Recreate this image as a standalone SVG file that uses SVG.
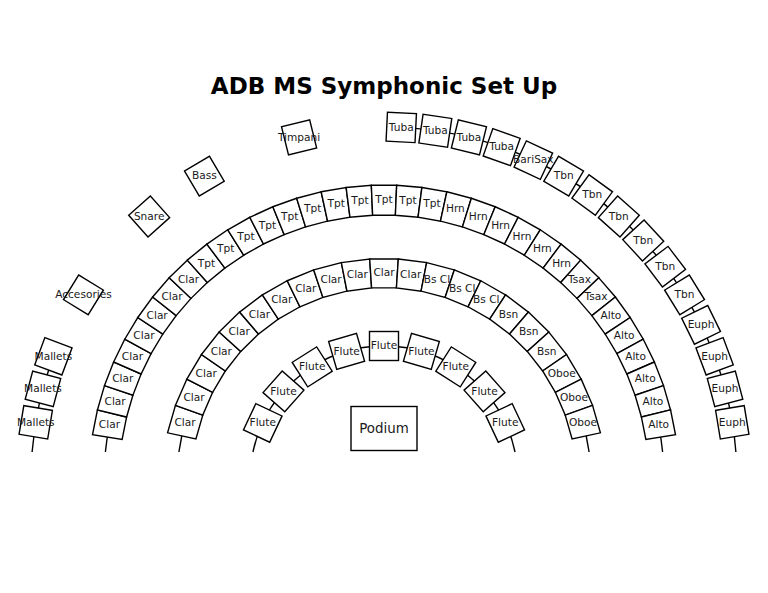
<svg xmlns="http://www.w3.org/2000/svg" xmlns:xlink="http://www.w3.org/1999/xlink" width="768" height="593" viewBox="0 0 768 593">
<style>
.b{fill:#fff;stroke:#000;stroke-width:1.4}
.c{fill:none;stroke:#000;stroke-width:1.4}
.t{font-family:"DejaVu Sans",sans-serif;font-size:10.6px;text-anchor:middle;fill:#1a1a1a}
.ttl{font-family:"DejaVu Sans",sans-serif;font-size:23px;font-weight:bold;text-anchor:middle;fill:#000}
</style>
<defs>
<polygon id="pm" points="-14.29,-14.04 14.29,-14.04 12.42,14.9 -12.42,14.9"/>
<polygon id="po" points="-12.66,-14.73 12.66,-14.73 11.37,15.24 -11.37,15.24"/>
<rect id="sq" x="-14.5" y="-14.5" width="29" height="29"/>
</defs>
<rect width="768" height="593" fill="#fff"/>
<text class="ttl" x="384" y="94">ADB MS Symphonic Set Up</text>

<g id="connectors">
<path class="c" d="M 252.96 452 A 134 134 0 0 1 515.04 452"/>
<path class="c" d="M 178.9 452 A 207 207 0 0 1 589.1 452"/>
<path class="c" d="M 105.4 452 A 280 280 0 0 1 662.6 452"/>
<path class="c" d="M 735.89 452 A 353 353 0 0 0 401.2 127.42"/>
<path class="c" d="M 32.11 452 A 353 353 0 0 1 53.37 356.32"/>
</g>

<g id="podium"><rect class="b" x="351" y="406.5" width="66" height="44"/><text class="t" style="font-size:13.4px" x="384" y="428.5" dy="0.3em">Podium</text></g>

<!-- Flutes -->
<g id="flute-1" transform="translate(384 480) rotate(-64.8) translate(0 -134)"><use href="#sq" class="b"/><text class="t" transform="rotate(64.8)" dy="0.3em">Flute</text></g>
<g id="flute-2" transform="translate(384 480) rotate(-48.6) translate(0 -134)"><use href="#sq" class="b"/><text class="t" transform="rotate(48.6)" dy="0.3em">Flute</text></g>
<g id="flute-3" transform="translate(384 480) rotate(-32.4) translate(0 -134)"><use href="#sq" class="b"/><text class="t" transform="rotate(32.4)" dy="0.3em">Flute</text></g>
<g id="flute-4" transform="translate(384 480) rotate(-16.2) translate(0 -134)"><use href="#sq" class="b"/><text class="t" transform="rotate(16.2)" dy="0.3em">Flute</text></g>
<g id="flute-5" transform="translate(384 480) rotate(0) translate(0 -134)"><use href="#sq" class="b"/><text class="t" dy="0.3em">Flute</text></g>
<g id="flute-6" transform="translate(384 480) rotate(16.2) translate(0 -134)"><use href="#sq" class="b"/><text class="t" transform="rotate(-16.2)" dy="0.3em">Flute</text></g>
<g id="flute-7" transform="translate(384 480) rotate(32.4) translate(0 -134)"><use href="#sq" class="b"/><text class="t" transform="rotate(-32.4)" dy="0.3em">Flute</text></g>
<g id="flute-8" transform="translate(384 480) rotate(48.6) translate(0 -134)"><use href="#sq" class="b"/><text class="t" transform="rotate(-48.6)" dy="0.3em">Flute</text></g>
<g id="flute-9" transform="translate(384 480) rotate(64.8) translate(0 -134)"><use href="#sq" class="b"/><text class="t" transform="rotate(-64.8)" dy="0.3em">Flute</text></g>

<!-- Middle row -->
<g id="mid-1" transform="translate(384 480) rotate(-74) translate(0 -207)"><use href="#pm" class="b"/><text class="t" transform="rotate(74)" dy="0.3em">Clar</text></g>
<g id="mid-2" transform="translate(384 480) rotate(-66.6) translate(0 -207)"><use href="#pm" class="b"/><text class="t" transform="rotate(66.6)" dy="0.3em">Clar</text></g>
<g id="mid-3" transform="translate(384 480) rotate(-59.2) translate(0 -207)"><use href="#pm" class="b"/><text class="t" transform="rotate(59.2)" dy="0.3em">Clar</text></g>
<g id="mid-4" transform="translate(384 480) rotate(-51.8) translate(0 -207)"><use href="#pm" class="b"/><text class="t" transform="rotate(51.8)" dy="0.3em">Clar</text></g>
<g id="mid-5" transform="translate(384 480) rotate(-44.4) translate(0 -207)"><use href="#pm" class="b"/><text class="t" transform="rotate(44.4)" dy="0.3em">Clar</text></g>
<g id="mid-6" transform="translate(384 480) rotate(-37) translate(0 -207)"><use href="#pm" class="b"/><text class="t" transform="rotate(37)" dy="0.3em">Clar</text></g>
<g id="mid-7" transform="translate(384 480) rotate(-29.6) translate(0 -207)"><use href="#pm" class="b"/><text class="t" transform="rotate(29.6)" dy="0.3em">Clar</text></g>
<g id="mid-8" transform="translate(384 480) rotate(-22.2) translate(0 -207)"><use href="#pm" class="b"/><text class="t" transform="rotate(22.2)" dy="0.3em">Clar</text></g>
<g id="mid-9" transform="translate(384 480) rotate(-14.8) translate(0 -207)"><use href="#pm" class="b"/><text class="t" transform="rotate(14.8)" dy="0.3em">Clar</text></g>
<g id="mid-10" transform="translate(384 480) rotate(-7.4) translate(0 -207)"><use href="#pm" class="b"/><text class="t" transform="rotate(7.4)" dy="0.3em">Clar</text></g>
<g id="mid-11" transform="translate(384 480) rotate(0) translate(0 -207)"><use href="#pm" class="b"/><text class="t" dy="0.3em">Clar</text></g>
<g id="mid-12" transform="translate(384 480) rotate(7.4) translate(0 -207)"><use href="#pm" class="b"/><text class="t" transform="rotate(-7.4)" dy="0.3em">Clar</text></g>
<g id="mid-13" transform="translate(384 480) rotate(14.8) translate(0 -207)"><use href="#pm" class="b"/><text class="t" transform="rotate(-14.8)" dy="0.3em">Bs Cl</text></g>
<g id="mid-14" transform="translate(384 480) rotate(22.2) translate(0 -207)"><use href="#pm" class="b"/><text class="t" transform="rotate(-22.2)" dy="0.3em">Bs Cl</text></g>
<g id="mid-15" transform="translate(384 480) rotate(29.6) translate(0 -207)"><use href="#pm" class="b"/><text class="t" transform="rotate(-29.6)" dy="0.3em">Bs Cl</text></g>
<g id="mid-16" transform="translate(384 480) rotate(37) translate(0 -207)"><use href="#pm" class="b"/><text class="t" transform="rotate(-37)" dy="0.3em">Bsn</text></g>
<g id="mid-17" transform="translate(384 480) rotate(44.4) translate(0 -207)"><use href="#pm" class="b"/><text class="t" transform="rotate(-44.4)" dy="0.3em">Bsn</text></g>
<g id="mid-18" transform="translate(384 480) rotate(51.8) translate(0 -207)"><use href="#pm" class="b"/><text class="t" transform="rotate(-51.8)" dy="0.3em">Bsn</text></g>
<g id="mid-19" transform="translate(384 480) rotate(59.2) translate(0 -207)"><use href="#pm" class="b"/><text class="t" transform="rotate(-59.2)" dy="0.3em">Oboe</text></g>
<g id="mid-20" transform="translate(384 480) rotate(66.6) translate(0 -207)"><use href="#pm" class="b"/><text class="t" transform="rotate(-66.6)" dy="0.3em">Oboe</text></g>
<g id="mid-21" transform="translate(384 480) rotate(74) translate(0 -207)"><use href="#pm" class="b"/><text class="t" transform="rotate(-74)" dy="0.3em">Oboe</text></g>

<!-- Outer row -->
<g id="out-1" transform="translate(384 480) rotate(-78.72) translate(0 -280)"><use href="#po" class="b"/><text class="t" transform="rotate(78.72)" dy="0.3em">Clar</text></g>
<g id="out-2" transform="translate(384 480) rotate(-73.8) translate(0 -280)"><use href="#po" class="b"/><text class="t" transform="rotate(73.8)" dy="0.3em">Clar</text></g>
<g id="out-3" transform="translate(384 480) rotate(-68.88) translate(0 -280)"><use href="#po" class="b"/><text class="t" transform="rotate(68.88)" dy="0.3em">Clar</text></g>
<g id="out-4" transform="translate(384 480) rotate(-63.96) translate(0 -280)"><use href="#po" class="b"/><text class="t" transform="rotate(63.96)" dy="0.3em">Clar</text></g>
<g id="out-5" transform="translate(384 480) rotate(-59.04) translate(0 -280)"><use href="#po" class="b"/><text class="t" transform="rotate(59.04)" dy="0.3em">Clar</text></g>
<g id="out-6" transform="translate(384 480) rotate(-54.12) translate(0 -280)"><use href="#po" class="b"/><text class="t" transform="rotate(54.12)" dy="0.3em">Clar</text></g>
<g id="out-7" transform="translate(384 480) rotate(-49.2) translate(0 -280)"><use href="#po" class="b"/><text class="t" transform="rotate(49.2)" dy="0.3em">Clar</text></g>
<g id="out-8" transform="translate(384 480) rotate(-44.28) translate(0 -280)"><use href="#po" class="b"/><text class="t" transform="rotate(44.28)" dy="0.3em">Clar</text></g>
<g id="out-9" transform="translate(384 480) rotate(-39.36) translate(0 -280)"><use href="#po" class="b"/><text class="t" transform="rotate(39.36)" dy="0.3em">Tpt</text></g>
<g id="out-10" transform="translate(384 480) rotate(-34.44) translate(0 -280)"><use href="#po" class="b"/><text class="t" transform="rotate(34.44)" dy="0.3em">Tpt</text></g>
<g id="out-11" transform="translate(384 480) rotate(-29.52) translate(0 -280)"><use href="#po" class="b"/><text class="t" transform="rotate(29.52)" dy="0.3em">Tpt</text></g>
<g id="out-12" transform="translate(384 480) rotate(-24.6) translate(0 -280)"><use href="#po" class="b"/><text class="t" transform="rotate(24.6)" dy="0.3em">Tpt</text></g>
<g id="out-13" transform="translate(384 480) rotate(-19.68) translate(0 -280)"><use href="#po" class="b"/><text class="t" transform="rotate(19.68)" dy="0.3em">Tpt</text></g>
<g id="out-14" transform="translate(384 480) rotate(-14.76) translate(0 -280)"><use href="#po" class="b"/><text class="t" transform="rotate(14.76)" dy="0.3em">Tpt</text></g>
<g id="out-15" transform="translate(384 480) rotate(-9.84) translate(0 -280)"><use href="#po" class="b"/><text class="t" transform="rotate(9.84)" dy="0.3em">Tpt</text></g>
<g id="out-16" transform="translate(384 480) rotate(-4.92) translate(0 -280)"><use href="#po" class="b"/><text class="t" transform="rotate(4.92)" dy="0.3em">Tpt</text></g>
<g id="out-17" transform="translate(384 480) rotate(0) translate(0 -280)"><use href="#po" class="b"/><text class="t" dy="0.3em">Tpt</text></g>
<g id="out-18" transform="translate(384 480) rotate(4.92) translate(0 -280)"><use href="#po" class="b"/><text class="t" transform="rotate(-4.92)" dy="0.3em">Tpt</text></g>
<g id="out-19" transform="translate(384 480) rotate(9.84) translate(0 -280)"><use href="#po" class="b"/><text class="t" transform="rotate(-9.84)" dy="0.3em">Tpt</text></g>
<g id="out-20" transform="translate(384 480) rotate(14.76) translate(0 -280)"><use href="#po" class="b"/><text class="t" transform="rotate(-14.76)" dy="0.3em">Hrn</text></g>
<g id="out-21" transform="translate(384 480) rotate(19.68) translate(0 -280)"><use href="#po" class="b"/><text class="t" transform="rotate(-19.68)" dy="0.3em">Hrn</text></g>
<g id="out-22" transform="translate(384 480) rotate(24.6) translate(0 -280)"><use href="#po" class="b"/><text class="t" transform="rotate(-24.6)" dy="0.3em">Hrn</text></g>
<g id="out-23" transform="translate(384 480) rotate(29.52) translate(0 -280)"><use href="#po" class="b"/><text class="t" transform="rotate(-29.52)" dy="0.3em">Hrn</text></g>
<g id="out-24" transform="translate(384 480) rotate(34.44) translate(0 -280)"><use href="#po" class="b"/><text class="t" transform="rotate(-34.44)" dy="0.3em">Hrn</text></g>
<g id="out-25" transform="translate(384 480) rotate(39.36) translate(0 -280)"><use href="#po" class="b"/><text class="t" transform="rotate(-39.36)" dy="0.3em">Hrn</text></g>
<g id="out-26" transform="translate(384 480) rotate(44.28) translate(0 -280)"><use href="#po" class="b"/><text class="t" transform="rotate(-44.28)" dy="0.3em">Tsax</text></g>
<g id="out-27" transform="translate(384 480) rotate(49.2) translate(0 -280)"><use href="#po" class="b"/><text class="t" transform="rotate(-49.2)" dy="0.3em">Tsax</text></g>
<g id="out-28" transform="translate(384 480) rotate(54.12) translate(0 -280)"><use href="#po" class="b"/><text class="t" transform="rotate(-54.12)" dy="0.3em">Alto</text></g>
<g id="out-29" transform="translate(384 480) rotate(59.04) translate(0 -280)"><use href="#po" class="b"/><text class="t" transform="rotate(-59.04)" dy="0.3em">Alto</text></g>
<g id="out-30" transform="translate(384 480) rotate(63.96) translate(0 -280)"><use href="#po" class="b"/><text class="t" transform="rotate(-63.96)" dy="0.3em">Alto</text></g>
<g id="out-31" transform="translate(384 480) rotate(68.88) translate(0 -280)"><use href="#po" class="b"/><text class="t" transform="rotate(-68.88)" dy="0.3em">Alto</text></g>
<g id="out-32" transform="translate(384 480) rotate(73.8) translate(0 -280)"><use href="#po" class="b"/><text class="t" transform="rotate(-73.8)" dy="0.3em">Alto</text></g>
<g id="out-33" transform="translate(384 480) rotate(78.72) translate(0 -280)"><use href="#po" class="b"/><text class="t" transform="rotate(-78.72)" dy="0.3em">Alto</text></g>

<!-- Outermost ring, left -->
<g id="mallets-1" transform="translate(384 480) rotate(-80.6) translate(0 -353)"><use href="#sq" class="b"/><text class="t" transform="rotate(80.6)" dy="0.3em">Mallets</text></g>
<g id="mallets-2" transform="translate(384 480) rotate(-75.04) translate(0 -353)"><use href="#sq" class="b"/><text class="t" transform="rotate(75.04)" dy="0.3em">Mallets</text></g>
<g id="mallets-3" transform="translate(384 480) rotate(-69.49) translate(0 -353)"><use href="#sq" class="b"/><text class="t" transform="rotate(69.49)" dy="0.3em">Mallets</text></g>
<g id="accesories" transform="translate(384 480) rotate(-58.37) translate(0 -353)"><use href="#sq" class="b"/><text class="t" transform="rotate(58.37)" dy="0.3em">Accesories</text></g>
<g id="snare" transform="translate(384 480) rotate(-41.7) translate(0 -353)"><use href="#sq" class="b"/><text class="t" transform="rotate(41.7)" dy="0.3em">Snare</text></g>
<g id="bass" transform="translate(384 480) rotate(-30.59) translate(0 -353)"><use href="#sq" class="b"/><text class="t" transform="rotate(30.59)" dy="0.3em">Bass</text></g>
<g id="timpani" transform="translate(384 480) rotate(-13.92) translate(0 -353)"><use href="#sq" class="b"/><text class="t" transform="rotate(13.92)" dy="0.3em">Timpani</text></g>

<!-- Outermost ring, right -->
<g id="tuba-1" transform="translate(384 480) rotate(2.8) translate(0 -353)"><use href="#sq" class="b"/><text class="t" transform="rotate(-2.8)" dy="0.3em">Tuba</text></g>
<g id="tuba-2" transform="translate(384 480) rotate(8.36) translate(0 -353)"><use href="#sq" class="b"/><text class="t" transform="rotate(-8.36)" dy="0.3em">Tuba</text></g>
<g id="tuba-3" transform="translate(384 480) rotate(13.92) translate(0 -353)"><use href="#sq" class="b"/><text class="t" transform="rotate(-13.92)" dy="0.3em">Tuba</text></g>
<g id="tuba-4" transform="translate(384 480) rotate(19.47) translate(0 -353)"><use href="#sq" class="b"/><text class="t" transform="rotate(-19.47)" dy="0.3em">Tuba</text></g>
<g id="barisax" transform="translate(384 480) rotate(25.03) translate(0 -353)"><use href="#sq" class="b"/><text class="t" transform="rotate(-25.03)" dy="0.3em">BariSax</text></g>
<g id="tbn-1" transform="translate(384 480) rotate(30.59) translate(0 -353)"><use href="#sq" class="b"/><text class="t" transform="rotate(-30.59)" dy="0.3em">Tbn</text></g>
<g id="tbn-2" transform="translate(384 480) rotate(36.14) translate(0 -353)"><use href="#sq" class="b"/><text class="t" transform="rotate(-36.14)" dy="0.3em">Tbn</text></g>
<g id="tbn-3" transform="translate(384 480) rotate(41.7) translate(0 -353)"><use href="#sq" class="b"/><text class="t" transform="rotate(-41.7)" dy="0.3em">Tbn</text></g>
<g id="tbn-4" transform="translate(384 480) rotate(47.26) translate(0 -353)"><use href="#sq" class="b"/><text class="t" transform="rotate(-47.26)" dy="0.3em">Tbn</text></g>
<g id="tbn-5" transform="translate(384 480) rotate(52.82) translate(0 -353)"><use href="#sq" class="b"/><text class="t" transform="rotate(-52.82)" dy="0.3em">Tbn</text></g>
<g id="tbn-6" transform="translate(384 480) rotate(58.37) translate(0 -353)"><use href="#sq" class="b"/><text class="t" transform="rotate(-58.37)" dy="0.3em">Tbn</text></g>
<g id="euph-1" transform="translate(384 480) rotate(63.93) translate(0 -353)"><use href="#sq" class="b"/><text class="t" transform="rotate(-63.93)" dy="0.3em">Euph</text></g>
<g id="euph-2" transform="translate(384 480) rotate(69.49) translate(0 -353)"><use href="#sq" class="b"/><text class="t" transform="rotate(-69.49)" dy="0.3em">Euph</text></g>
<g id="euph-3" transform="translate(384 480) rotate(75.04) translate(0 -353)"><use href="#sq" class="b"/><text class="t" transform="rotate(-75.04)" dy="0.3em">Euph</text></g>
<g id="euph-4" transform="translate(384 480) rotate(80.6) translate(0 -353)"><use href="#sq" class="b"/><text class="t" transform="rotate(-80.6)" dy="0.3em">Euph</text></g>
</svg>
